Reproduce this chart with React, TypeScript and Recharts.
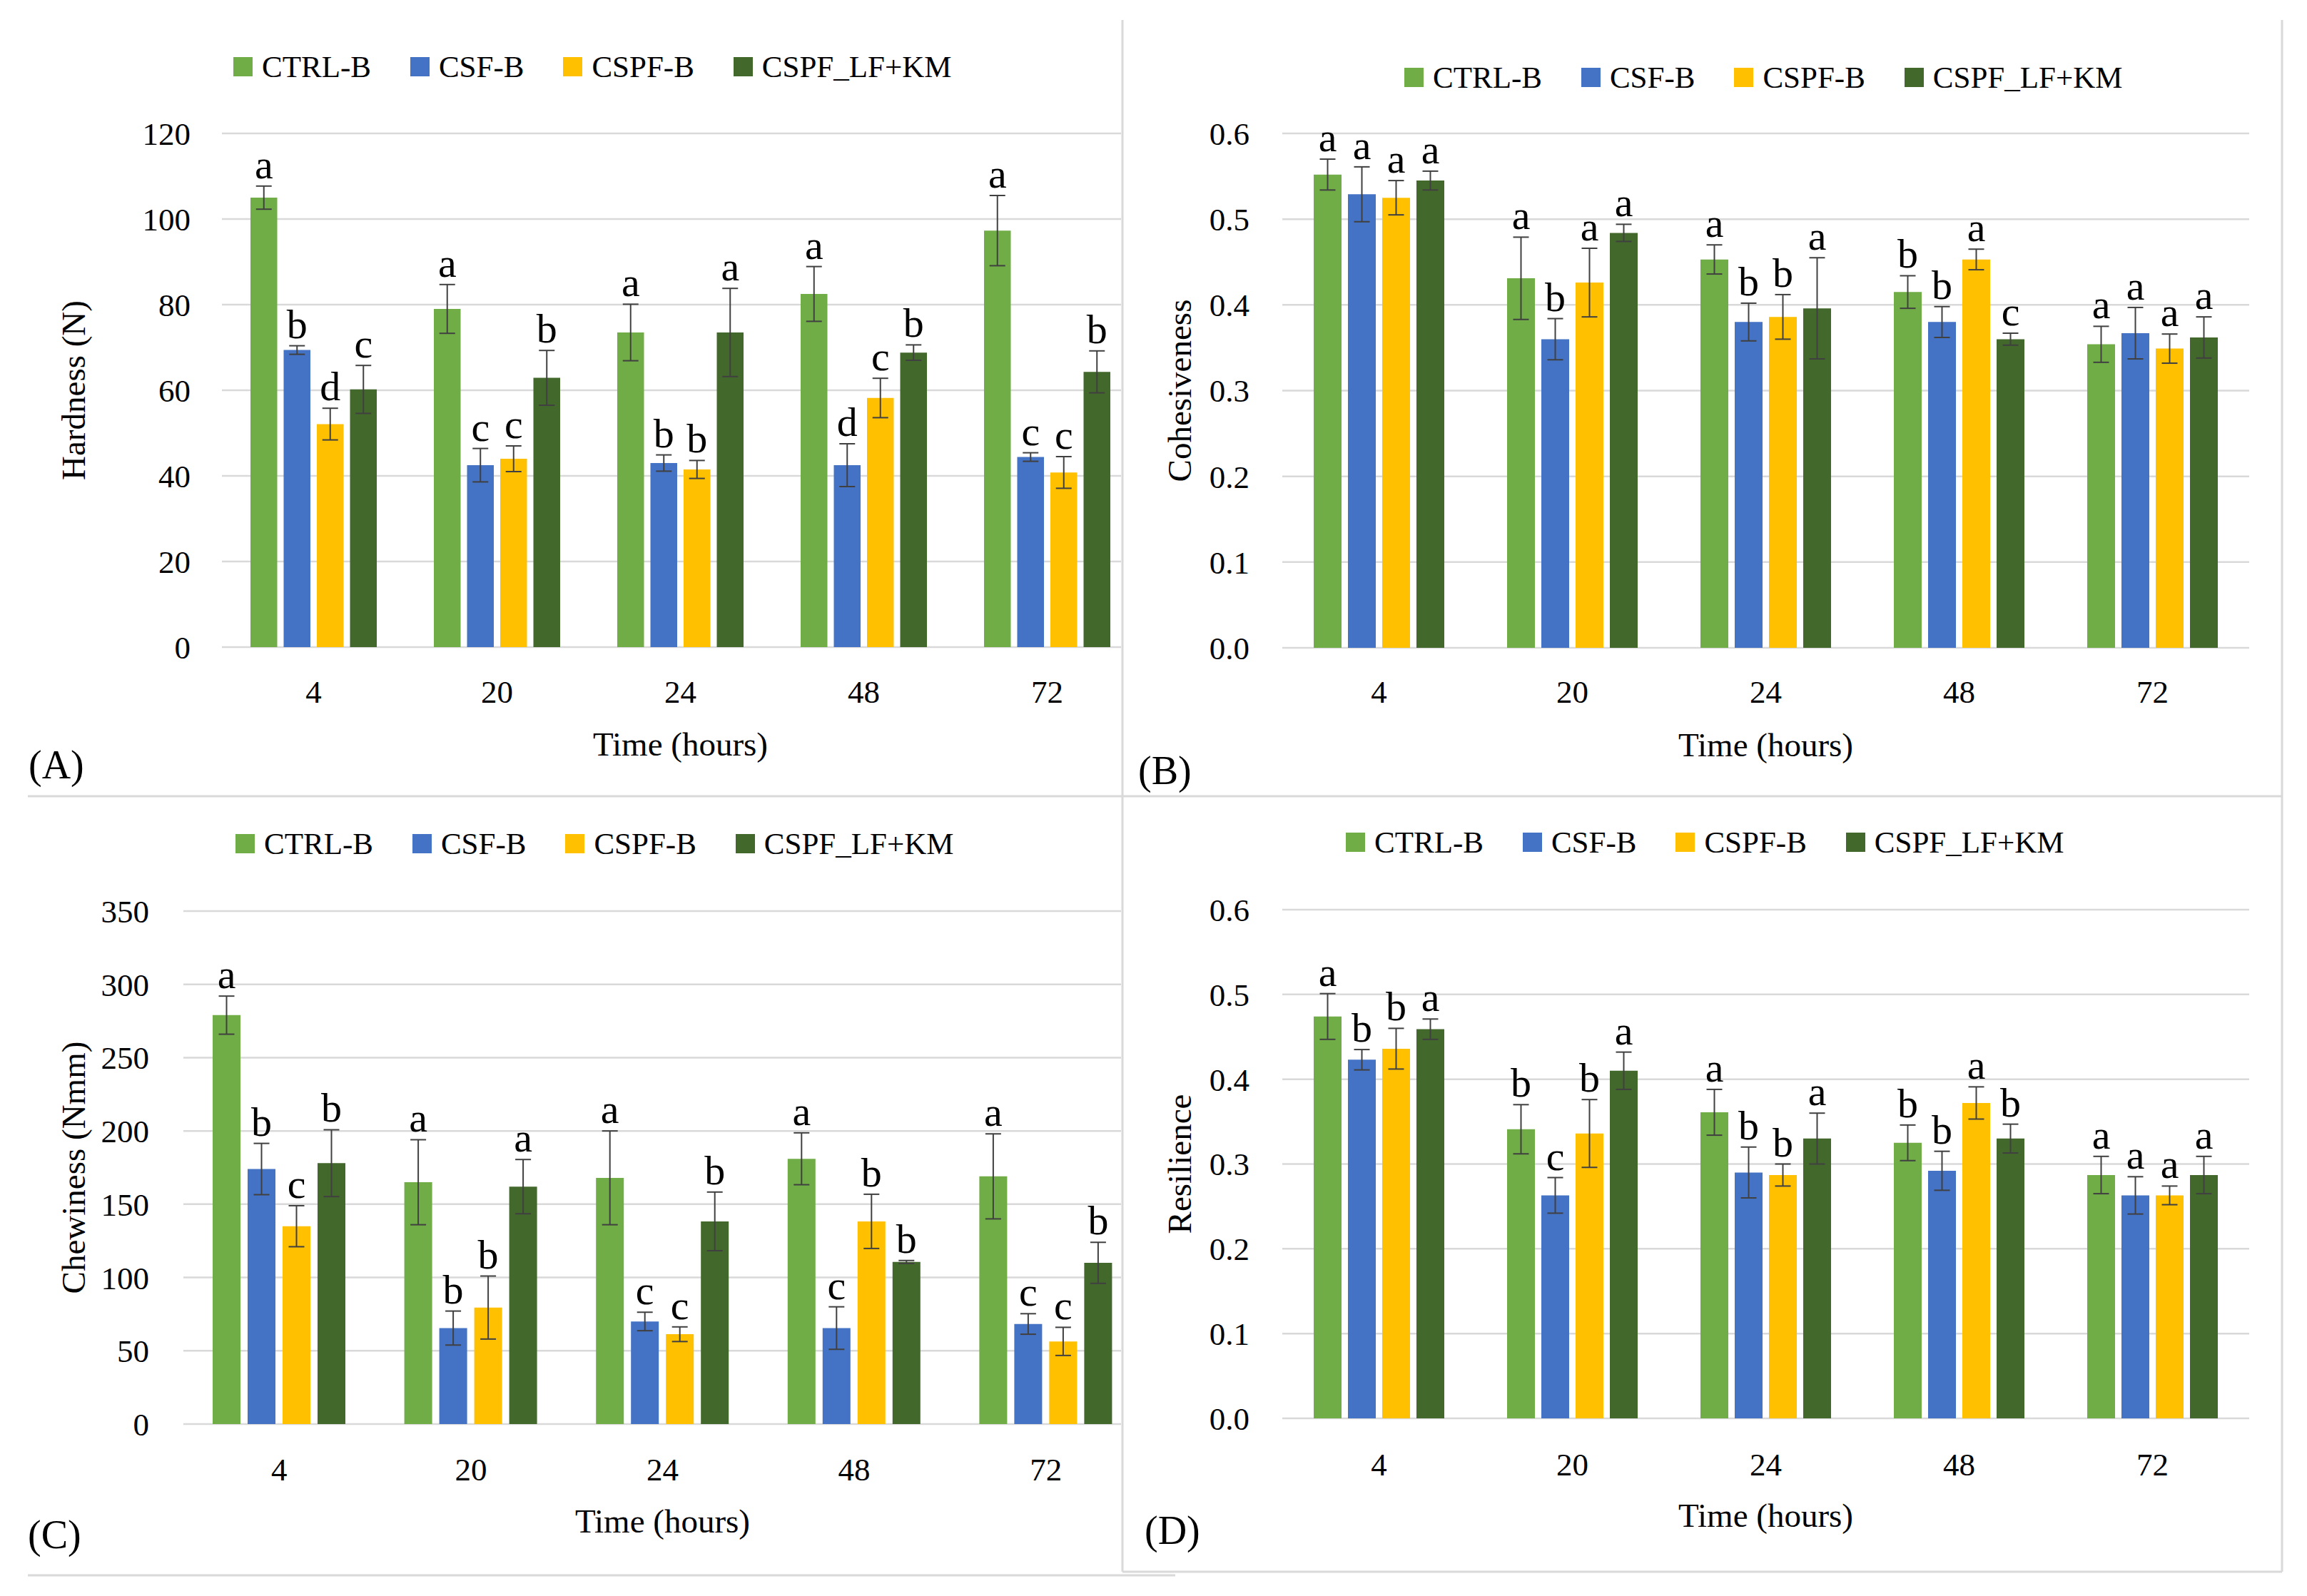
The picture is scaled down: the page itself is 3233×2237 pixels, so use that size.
import {
  Bar,
  BarChart,
  CartesianGrid,
  ErrorBar,
  LabelList,
  Legend,
  XAxis,
  YAxis,
} from 'recharts'

const FONT = '"Liberation Serif", "Times New Roman", serif'

const times = ['4', '20', '24', '48', '72']
const groups = ['CTRL-B', 'CSF-B', 'CSPF-B', 'CSPF_LF+KM']
const groupColors = ['#70AD47', '#4472C4', '#FFC000', '#43682B']

// one row per group (CTRL-B, CSF-B, CSPF-B, CSPF_LF+KM), one column per time
const hardnessMean = [
  [105, 79, 73.5, 82.5, 97.3],
  [69.4, 42.5, 43, 42.5, 44.4],
  [52.1, 44, 41.5, 58.2, 40.8],
  [60.2, 62.9, 73.5, 68.8, 64.3],
]
const hardnessSd = [
  [2.7, 5.7, 6.6, 6.4, 8.2],
  [1, 3.9, 1.9, 5, 1],
  [3.7, 3, 2.1, 4.6, 3.7],
  [5.6, 6.4, 10.3, 1.8, 4.9],
]
const hardnessLetters = [
  ['a', 'a', 'a', 'a', 'a'],
  ['b', 'c', 'b', 'd', 'c'],
  ['d', 'c', 'b', 'c', 'c'],
  ['c', 'b', 'a', 'b', 'b'],
]
const hardnessTicks = [0, 20, 40, 60, 80, 100, 120]

const cohesivenessMean = [
  [0.552, 0.431, 0.453, 0.415, 0.354],
  [0.529, 0.36, 0.38, 0.38, 0.367],
  [0.525, 0.426, 0.386, 0.453, 0.349],
  [0.545, 0.484, 0.396, 0.36, 0.362],
]
const cohesivenessSd = [
  [0.018, 0.048, 0.017, 0.019, 0.021],
  [0.032, 0.024, 0.022, 0.018, 0.03],
  [0.02, 0.04, 0.026, 0.012, 0.017],
  [0.011, 0.01, 0.059, 0.007, 0.024],
]
const cohesivenessLetters = [
  ['a', 'a', 'a', 'b', 'a'],
  ['a', 'b', 'b', 'b', 'a'],
  ['a', 'a', 'b', 'a', 'a'],
  ['a', 'a', 'a', 'c', 'a'],
]

const chewinessMean = [
  [279, 165, 168, 181, 169],
  [174, 65.5, 70, 65.5, 68.3],
  [135, 79.5, 61.3, 138.3, 56.4],
  [178, 162, 138.3, 110.6, 110],
]
const chewinessSd = [
  [13, 29, 32, 17.7, 29],
  [17.5, 11.6, 6.3, 14.5, 7],
  [14, 21.5, 5, 18.5, 9.6],
  [22.8, 18.5, 20, 1, 14],
]
const chewinessLetters = [
  ['a', 'a', 'a', 'a', 'a'],
  ['b', 'b', 'c', 'c', 'c'],
  ['c', 'b', 'c', 'b', 'c'],
  ['b', 'a', 'b', 'b', 'b'],
]
const chewinessTicks = [0, 50, 100, 150, 200, 250, 300, 350]

const resilienceMean = [
  [0.474, 0.341, 0.361, 0.325, 0.287],
  [0.423, 0.263, 0.29, 0.292, 0.263],
  [0.436, 0.336, 0.287, 0.372, 0.263],
  [0.459, 0.41, 0.33, 0.33, 0.287],
]
const resilienceSd = [
  [0.027, 0.029, 0.027, 0.021, 0.022],
  [0.012, 0.021, 0.03, 0.023, 0.022],
  [0.024, 0.04, 0.013, 0.019, 0.011],
  [0.012, 0.022, 0.03, 0.017, 0.022],
]
const resilienceLetters = [
  ['a', 'b', 'a', 'b', 'a'],
  ['b', 'c', 'b', 'b', 'a'],
  ['b', 'b', 'b', 'a', 'a'],
  ['a', 'a', 'a', 'b', 'a'],
]

const ratioTicks = [0, 0.1, 0.2, 0.3, 0.4, 0.5, 0.6]

function buildRows(mean: number[][], sd: number[][], letters: string[][]) {
  return times.map((time, i) => {
    const row: Record<string, string | number> = { time }
    groups.forEach((_, g) => {
      row[`v${g}`] = mean[g][i]
      row[`e${g}`] = sd[g][i]
      row[`l${g}`] = `${letters[g][i]}|${sd[g][i]}|${mean[g][i]}`
    })
    return row
  })
}

// letter sits just above the top whisker
function renderLetter(props: any) {
  const vb = props.viewBox || props
  const { x, y, width, height } = vb
  const [letter, sdText, meanText] = String(props.value).split('|')
  const sd = Number(sdText)
  const mean = Number(meanText)
  const pxPerUnit = mean ? Math.abs(height) / mean : 0
  const top = Math.min(y, y + height) - sd * pxPerUnit
  return (
    <text
      x={x + width / 2}
      y={top - 11}
      textAnchor="middle"
      fontSize={58}
      fontFamily={FONT}
      fill="#000"
    >
      {letter}
    </text>
  )
}

function makeTick(axis: 'x' | 'y', digits: number) {
  return (props: any) => {
    const v = props.payload?.value
    const label = typeof v === 'number' ? v.toFixed(digits) : String(v)
    return (
      <text
        x={props.x}
        y={props.y}
        dy={axis === 'x' ? '0.71em' : '0.355em'}
        textAnchor={axis === 'x' ? 'middle' : 'end'}
        fontSize={45}
        fontFamily={FONT}
        fill="#000"
      >
        {label}
      </text>
    )
  }
}

function renderLegend(props: any) {
  const items = [...(props.payload || [])].sort(
    (a: any, b: any) => groups.indexOf(a.value) - groups.indexOf(b.value),
  )
  return (
    <div
      style={{
        display: 'flex',
        alignItems: 'center',
        height: 40,
        fontFamily: FONT,
        fontSize: 43,
        color: '#000',
        whiteSpace: 'nowrap',
      }}
    >
      {items.map((item: any, i: number) => (
        <div
          key={item.value}
          style={{
            display: 'flex',
            alignItems: 'center',
            marginRight: i < items.length - 1 ? 55 : 0,
          }}
        >
          <span
            style={{
              display: 'inline-block',
              width: 27,
              height: 27,
              background: item.color,
              marginRight: 13,
            }}
          />
          <span>{item.value}</span>
        </div>
      ))}
    </div>
  )
}

type PanelProps = {
  left: number
  top: number
  clip?: number
  width: number
  height: number
  margin: { top: number; right: number; bottom: number; left: number }
  yWidth: number
  yTickMargin: number
  yLabelOffset: number
  xTickMargin: number
  xLabelOffset: number
  legendLeft: number
  legendTop: number
  barSize: number
  barGap: number
  domain: [number, number]
  ticks: number[]
  digits: number
  yTitle: string
  mean: number[][]
  sd: number[][]
  letters: string[][]
}

function Panel(p: PanelProps) {
  const rows = buildRows(p.mean, p.sd, p.letters)
  return (
    <div
      style={{
        position: 'absolute',
        left: p.left,
        top: p.top,
        width: p.clip ?? p.width,
        height: p.height,
        overflow: 'hidden',
      }}
    >
      <BarChart
        width={p.width}
        height={p.height}
        data={rows}
        margin={p.margin}
        barGap={p.barGap}
        style={{ fontFamily: FONT }}
      >
        <CartesianGrid vertical={false} stroke="#D9D9D9" strokeWidth={2.5} />
        <XAxis
          dataKey="time"
          height={152}
          interval={0}
          axisLine={false}
          tickLine={false}
          tickSize={0}
          tickMargin={p.xTickMargin}
          tick={makeTick('x', 0)}
          label={{
            value: 'Time (hours)',
            position: 'insideBottom',
            offset: p.xLabelOffset,
            style: { fontSize: 47, fontFamily: FONT, fill: '#000' },
          }}
        />
        <YAxis
          width={p.yWidth}
          domain={p.domain}
          ticks={p.ticks}
          interval={0}
          axisLine={false}
          tickLine={false}
          tickSize={0}
          tickMargin={p.yTickMargin}
          tick={makeTick('y', p.digits)}
          label={{
            value: p.yTitle,
            angle: -90,
            position: 'insideLeft',
            offset: p.yLabelOffset,
            style: {
              fontSize: 47,
              fontFamily: FONT,
              fill: '#000',
              textAnchor: 'middle',
            },
          }}
        />
        <Legend
          layout="horizontal"
          verticalAlign="middle"
          align="center"
          content={renderLegend}
          wrapperStyle={{ top: p.legendTop, left: p.legendLeft, width: 1400 }}
        />
        {groups.map((name, g) => (
          <Bar
            key={name}
            name={name}
            dataKey={`v${g}`}
            fill={groupColors[g]}
            barSize={p.barSize}
            isAnimationActive={false}
          >
            <ErrorBar
              dataKey={`e${g}`}
              direction="y"
              width={11}
              stroke="#404040"
              strokeWidth={2}
              isAnimationActive={false}
            />
            <LabelList dataKey={`l${g}`} content={renderLetter} />
          </Bar>
        ))}
      </BarChart>
    </div>
  )
}

const frameColor = '#D9D9D9'

export default function App() {
  return (
    <div
      style={{
        position: 'absolute',
        left: 0,
        top: 0,
        width: 3233,
        height: 2237,
        background: '#fff',
        overflow: 'hidden',
      }}
    >
      <Panel
        left={0}
        top={0}
        clip={1571}
        width={1614}
        height={1110}
        margin={{ top: 187, right: 18, bottom: 51, left: 0 }}
        yWidth={311}
        yTickMargin={44}
        yLabelOffset={102}
        xTickMargin={46}
        xLabelOffset={0}
        legendLeft={327}
        legendTop={73}
        barSize={37.5}
        barGap={9}
        domain={[0, 120]}
        ticks={hardnessTicks}
        digits={0}
        yTitle="Hardness (N)"
        mean={hardnessMean}
        sd={hardnessSd}
        letters={hardnessLetters}
      />
      <Panel
        left={1580}
        top={0}
        width={1612}
        height={1110}
        margin={{ top: 187, right: 40, bottom: 50, left: 0 }}
        yWidth={217}
        yTickMargin={46}
        yLabelOffset={72}
        xTickMargin={45}
        xLabelOffset={0}
        legendLeft={388}
        legendTop={88}
        barSize={39}
        barGap={9}
        domain={[0, 0.6]}
        ticks={ratioTicks}
        digits={1}
        yTitle="Cohesiveness"
        mean={cohesivenessMean}
        sd={cohesivenessSd}
        letters={cohesivenessLetters}
      />
      <Panel
        left={0}
        top={1110}
        clip={1571}
        width={1614}
        height={1100}
        margin={{ top: 167, right: 14, bottom: 62, left: 0 }}
        yWidth={257}
        yTickMargin={48}
        yLabelOffset={102}
        xTickMargin={47}
        xLabelOffset={0}
        legendLeft={330}
        legendTop={52}
        barSize={39}
        barGap={10}
        domain={[0, 350]}
        ticks={chewinessTicks}
        digits={0}
        yTitle="Chewiness (Nmm)"
        mean={chewinessMean}
        sd={chewinessSd}
        letters={chewinessLetters}
      />
      <Panel
        left={1580}
        top={1110}
        width={1612}
        height={1100}
        margin={{ top: 165, right: 40, bottom: 70, left: 0 }}
        yWidth={217}
        yTickMargin={46}
        yLabelOffset={72}
        xTickMargin={48}
        xLabelOffset={0}
        legendLeft={306}
        legendTop={50}
        barSize={39}
        barGap={9}
        domain={[0, 0.6]}
        ticks={ratioTicks}
        digits={1}
        yTitle="Resilience"
        mean={resilienceMean}
        sd={resilienceSd}
        letters={resilienceLetters}
      />
      <svg
        width={3233}
        height={2237}
        style={{ position: 'absolute', left: 0, top: 0, pointerEvents: 'none' }}
      >
        <line x1={39} y1={1116} x2={3198} y2={1116} stroke={frameColor} strokeWidth={3} />
        <line x1={1573} y1={28} x2={1573} y2={2203} stroke={frameColor} strokeWidth={3} />
        <line x1={3198} y1={28} x2={3198} y2={2203} stroke={frameColor} strokeWidth={3} />
        <line x1={1573} y1={2203} x2={3198} y2={2203} stroke={frameColor} strokeWidth={3} />
        <line x1={39} y1={2208} x2={1647} y2={2208} stroke={frameColor} strokeWidth={3} />
        <g fontFamily={FONT} fontSize={56} fill="#000">
          <text x={40} y={1091}>(A)</text>
          <text x={1595} y={1099}>(B)</text>
          <text x={39} y={2170}>(C)</text>
          <text x={1604} y={2164}>(D)</text>
        </g>
      </svg>
    </div>
  )
}
